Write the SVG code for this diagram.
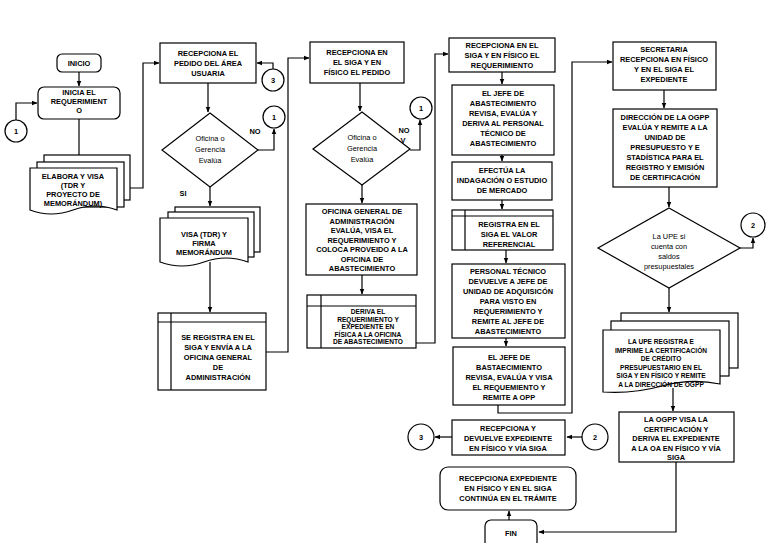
<svg xmlns="http://www.w3.org/2000/svg" width="768" height="543" viewBox="0 0 768 543">
<defs>
<marker id="a" viewBox="0 0 10 10" refX="9" refY="5" markerWidth="5" markerHeight="5" orient="auto"><path d="M0,1 L10,5 L0,9 z" fill="#000"/></marker>
<style>
.b{fill:#fff;stroke:#000;stroke-width:1.2}
.l{fill:none;stroke:#000;stroke-width:1.2}
text{font-family:"Liberation Sans",Arial,sans-serif;font-size:7.4px;font-weight:bold;text-anchor:middle}
.n{font-weight:normal}
.s{font-size:6.6px}
</style>
</defs>
<rect width="768" height="543" fill="#fff"/>
<g id="connectors" class="l">
<path d="M79,72 V86" marker-end="url(#a)"/>
<path d="M16,120 V103 H37" marker-end="url(#a)"/>
<path d="M79,119 V165" marker-end="url(#a)"/>
<path d="M130,188 H143 V63 H159" marker-end="url(#a)"/>
<path d="M273,69 V63 H257" marker-end="url(#a)"/>
<path d="M208,83 V112" marker-end="url(#a)"/>
<path d="M258,150 H274 V129" marker-end="url(#a)"/>
<path d="M210,187 V206" marker-end="url(#a)"/>
<path d="M210,262 V312" marker-end="url(#a)"/>
<path d="M266,352 H288 V58 H309" marker-end="url(#a)"/>
<path d="M360,83 V111" marker-end="url(#a)"/>
<path d="M410,150 H420 V120" marker-end="url(#a)"/>
<path d="M362,185 V203" marker-end="url(#a)"/>
<path d="M362,275 V294" marker-end="url(#a)"/>
<path d="M416,343 H435 V54 H448" marker-end="url(#a)"/>
<path d="M502,72 V84" marker-end="url(#a)"/>
<path d="M502,155 V161" marker-end="url(#a)"/>
<path d="M502,200 V209" marker-end="url(#a)"/>
<path d="M506,250 V263" marker-end="url(#a)"/>
<path d="M506,338 V346" marker-end="url(#a)"/>
<path d="M498,405 V413 H572 V62 H612" marker-end="url(#a)"/>
<path d="M452,437 H435" marker-end="url(#a)"/>
<path d="M582,437 H567" marker-end="url(#a)"/>
<path d="M509,520 V511" marker-end="url(#a)"/>
<path d="M664,90 V108" marker-end="url(#a)"/>
<path d="M669,187 V207" marker-end="url(#a)"/>
<path d="M740,248 H753 V238" marker-end="url(#a)"/>
<path d="M669,288 V312" marker-end="url(#a)"/>
<path d="M673,388 V411" marker-end="url(#a)"/>
<path d="M676,462 V532 H539" marker-end="url(#a)"/>
</g>
<g id="inicio"><rect class="b" x="57" y="54" width="44" height="18" rx="5"/><text x="79" y="66">INICIO</text></g>
<g id="c1a"><circle class="b" cx="16" cy="131" r="11"/><text x="16" y="134">1</text></g>
<g id="inicia"><rect class="b" x="38" y="87" width="82" height="32" rx="6"/><text x="79" y="95">INICIA EL</text><text x="79" y="104">REQUERIMIENT</text><text x="79" y="113">O</text></g>
<g id="elabora"><rect class="b" x="44" y="155" width="86" height="45"/><rect class="b" x="37" y="162" width="87" height="45"/><path class="b" d="M30,168 H117 V210 Q95,202 73,210 T30,210 Z"/><text x="73" y="179">ELABORA Y VISA</text><text x="73" y="188">(TDR Y</text><text x="73" y="197">PROYECTO DE</text><text x="73" y="206">MEMORÁNDUM)</text></g>
<g id="recep1"><rect class="b" x="160" y="43" width="96" height="40"/><text x="208" y="56">RECEPCIONA EL</text><text x="208" y="66">PEDIDO DEL ÁREA</text><text x="208" y="76">USUARIA</text></g>
<g id="c3a"><circle class="b" cx="273" cy="80" r="11"/><text x="273" y="83">3</text></g>
<g id="d1"><path class="b" d="M210,113 L258,150 L210,187 L162,150 Z"/><text class="n" x="210" y="141">Oficina o</text><text class="n" x="210" y="152">Gerencia</text><text class="n" x="210" y="163">Evalúa</text><text x="255" y="134">NO</text><text x="183" y="196">SI</text></g>
<g id="c1b"><circle class="b" cx="274" cy="117" r="11"/><text x="274" y="120">1</text></g>
<g id="visa"><rect class="b" x="175" y="207" width="85" height="45"/><rect class="b" x="168" y="212" width="86" height="45"/><path class="b" d="M160,218 H248 V262 Q226,254 204,262 T160,262 Z"/><text x="204" y="237">VISA (TDR) Y</text><text x="204" y="246">FIRMA</text><text x="204" y="255">MEMORÁNDUM</text></g>
<g id="registra1"><rect class="b" x="158" y="313" width="108" height="77"/><path class="l" d="M171,313 V390 M158,322 H266"/><text x="218" y="340">SE REGISTRA EN EL</text><text x="218" y="350">SIGA Y ENVÍA A LA</text><text x="218" y="360">OFICINA GENERAL</text><text x="218" y="370">DE</text><text x="218" y="380">ADMINISTRACIÓN</text></g>
<g id="recep2"><rect class="b" x="310" y="42" width="94" height="41"/><text x="357" y="55">RECEPCIONA EN</text><text x="357" y="65">EL SIGA Y EN</text><text x="357" y="75">FÍSICO EL PEDIDO</text></g>
<g id="d2"><path class="b" d="M362,112 L410,149 L362,185 L313,149 Z"/><text class="n" x="362" y="140">Oficina o</text><text class="n" x="362" y="151">Gerencia</text><text class="n" x="362" y="162">Evalúa</text><text x="404" y="133">NO</text><text x="403" y="143">V</text></g>
<g id="c1c"><circle class="b" cx="421" cy="108" r="11"/><text x="421" y="111">1</text></g>
<g id="oga"><rect class="b" x="306" y="204" width="111" height="71"/><text x="362" y="214">OFICINA GENERAL DE</text><text x="362" y="223.5">ADMINISTRACIÓN</text><text x="362" y="233">EVALÚA, VISA EL</text><text x="362" y="242.5">REQUERIMIENTO Y</text><text x="362" y="252">COLOCA PROVEIDO A LA</text><text x="362" y="261.5">OFICINA DE</text><text x="362" y="271">ABASTECIMIENTO</text></g>
<g id="deriva"><rect class="b" x="307" y="295" width="109" height="53"/><path class="l" d="M321,295 V348 M307,306 H416"/><text class="s" x="368" y="314">DERIVA EL</text><text class="s" x="368" y="321.5">REQUERIMIENTO Y</text><text class="s" x="368" y="329">EXPEDIENTE EN</text><text class="s" x="368" y="336.5">FÍSICA A LA OFICINA</text><text class="s" x="368" y="344">DE ABASTECIMIENTO</text></g>
<g id="recep3"><rect class="b" x="449" y="38" width="106" height="34"/><text x="502" y="48">RECEPCIONA EN EL</text><text x="502" y="58">SIGA Y EN FÍSICO EL</text><text x="502" y="68">REQUERIMIENTO</text></g>
<g id="jefe1"><rect class="b" x="452" y="85" width="102" height="70"/><text x="503" y="96">EL JEFE DE</text><text x="503" y="106">ABASTECIMIENTO</text><text x="503" y="116">REVISA, EVALÚA Y</text><text x="503" y="126">DERIVA AL PERSONAL</text><text x="503" y="136">TÉCNICO DE</text><text x="503" y="146">ABASTECIMIENTO</text></g>
<g id="efectua"><rect class="b" x="452" y="162" width="100" height="38"/><text x="502" y="173">EFECTÚA LA</text><text x="502" y="183">INDAGACIÓN O ESTUDIO</text><text x="502" y="193">DE MERCADO</text></g>
<g id="registra2"><rect class="b" x="452" y="210" width="101" height="40"/><path class="l" d="M465,210 V250 M452,216 H553"/><text x="509" y="227">REGISTRA EN EL</text><text x="509" y="237">SIGA EL VALOR</text><text x="509" y="247">REFERENCIAL</text></g>
<g id="personal"><rect class="b" x="452" y="264" width="113" height="74"/><text x="508" y="274">PERSONAL TÉCNICO</text><text x="508" y="284">DEVUELVE A JEFE DE</text><text x="508" y="294">UNIDAD DE ADQUISICÓN</text><text x="508" y="304">PARA VISTO EN</text><text x="508" y="314">REQUERIMIENTO Y</text><text x="508" y="324">REMITE AL JEFE DE</text><text x="508" y="334">ABASTECIMIENTO</text></g>
<g id="jefe2"><rect class="b" x="453" y="347" width="112" height="58"/><text x="509" y="360">EL JEFE DE</text><text x="509" y="370">BASTAECIMIENTO</text><text x="509" y="380">REVISA, EVALÚA Y VISA</text><text x="509" y="390">EL REQUEMIENTO Y</text><text x="509" y="400">REMITE A OPP</text></g>
<g id="devuelve"><rect class="b" x="452" y="420" width="113" height="35"/><text x="508" y="431">RECEPCIONA Y</text><text x="508" y="441">DEVUELVE EXPEDIENTE</text><text x="508" y="451">EN FÍSICO Y VÍA SIGA</text></g>
<g id="c3b"><circle class="b" cx="421" cy="437" r="13"/><text x="421" y="440">3</text></g>
<g id="c2a"><circle class="b" cx="595" cy="437" r="13"/><text x="595" y="440">2</text></g>
<g id="continua"><rect class="b" x="440" y="467" width="136" height="43" rx="8"/><text x="508" y="481">RECEPCIONA EXPEDIENTE</text><text x="508" y="491">EN FÍSICO Y EN EL SIGA</text><text x="508" y="501">CONTINÚA EN EL TRÁMITE</text></g>
<g id="fin"><rect class="b" x="485" y="520" width="52" height="28" rx="6"/><text x="511" y="536">FIN</text></g>
<g id="secretaria"><rect class="b" x="613" y="42" width="103" height="48"/><text x="664" y="52">SECRETARIA</text><text x="664" y="62">RECEPCIONA EN FÍSICO</text><text x="664" y="72">Y EN EL SIGA EL</text><text x="664" y="82">EXPEDIENTE</text></g>
<g id="direccion"><rect class="b" x="613" y="109" width="104" height="78"/><text x="665" y="120">DIRECCIÓN DE LA OGPP</text><text x="665" y="130">EVALÚA Y REMITE A LA</text><text x="665" y="140">UNIDAD DE</text><text x="665" y="150">PRESUPUESTO Y E</text><text x="665" y="160">STADÍSTICA PARA EL</text><text x="665" y="170">REGISTRO Y EMISIÓN</text><text x="665" y="180">DE CERTIFICACIÓN</text></g>
<g id="d3"><path class="b" d="M669,208 L740,248 L669,288 L598,248 Z"/><text class="n" x="669" y="239">La UPE si</text><text class="n" x="669" y="249">cuenta con</text><text class="n" x="669" y="259">saldos</text><text class="n" x="669" y="269">presupuestales</text></g>
<g id="c2b"><circle class="b" cx="753" cy="225" r="12"/><text x="753" y="228">2</text></g>
<g id="upe"><rect class="b" x="621" y="313" width="117" height="55"/><rect class="b" x="611" y="321" width="118" height="55"/><path class="b" d="M603,330 H720 V384 Q691,378 662,386 T603,392 Z"/><text class="s" x="661" y="344">LA UPE REGISTRA E</text><text class="s" x="661" y="352.5">IMPRIME LA CERTIFICACIÓN</text><text class="s" x="661" y="361">DE CRÉDITO</text><text class="s" x="661" y="369.5">PRESUPUESTARIO EN EL</text><text class="s" x="661" y="378">SIGA Y EN FÍSICO Y REMITE</text><text class="s" x="661" y="386.5">A LA DIRECCIÓN DE OGPP</text></g>
<g id="ogppvisa"><rect class="b" x="619" y="412" width="115" height="50"/><text x="676" y="422">LA OGPP VISA LA</text><text x="676" y="431.5">CERTIFICACIÓN Y</text><text x="676" y="441">DERIVA EL EXPEDIENTE</text><text x="676" y="450.5">A LA OA EN FÍSICO Y VÍA</text><text x="676" y="460">SIGA</text></g>
</svg>
